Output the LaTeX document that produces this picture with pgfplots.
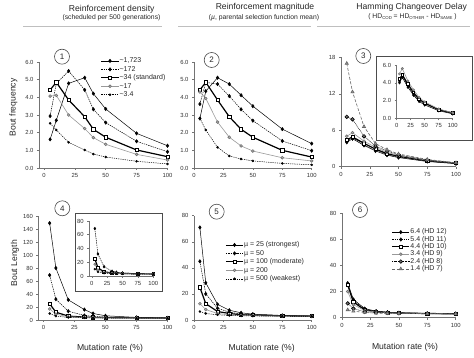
\documentclass[border=0pt]{standalone}
\usepackage{fontspec}
\setmainfont{Liberation Sans}
\usepackage{pgfplots}
\pgfplotsset{compat=1.18}
\newcommand{\sub}[1]{\raisebox{-0.35ex}{\fontsize{4.3}{5}\selectfont #1}}
\pgfplotsset{
  base/.style={scale only axis, anchor=south west,
    axis x line*=bottom, axis y line*=left,
    axis line style={draw=black!55, line width=0.6pt},
    tick style={draw=black!55, line width=0.5pt}, tick align=outside, major tick length=2pt,
    xtick={0,25,50,75,100},
    tick label style={font=\fontsize{5.9}{6.5}\selectfont, text=black!80},
    /pgf/number format/assume math mode=true,
    clip=false, xmax=100, ymin=0,
    legend cell align=left,
    legend style={draw=none, fill=none, anchor=north west, font=\fontsize{7}{8}\selectfont, text=black!85, row sep=1.45pt, inner sep=0pt, nodes={inner sep=0.5pt, text height=4.8pt, text depth=1.2pt}},
  },
  dec/.style={yticklabel style={/pgf/number format/.cd, fixed, fixed zerofill, precision=1}},
  s1/.style={black, line width=0.5pt, mark=diamond*, mark size=1.7pt, mark options={solid}},
  s2/.style={black, line width=0.5pt, dash pattern=on 1.4pt off 0.9pt, mark=diamond*, mark size=1.7pt, mark options={solid}},
  s3/.style={black, line width=1.2pt, mark=square*, mark size=1.6pt, mark options={solid, fill=white, line width=0.7pt}},
  s4/.style={black!40, line width=0.6pt, mark=*, mark size=1.4pt, mark options={solid, fill=black!30, draw=black!55}},
  s5/.style={black, line width=0.5pt, dash pattern=on 1.2pt off 1pt, mark=*, mark size=1.0pt, mark options={solid}},
  s6/.style={black, line width=0.5pt, dash pattern=on 0.7pt off 0.7pt, mark=*, mark size=1.8pt, mark options={solid, fill=black!55, draw=black, line width=0.6pt}},
  s7/.style={black!60, line width=0.6pt, dash pattern=on 3pt off 1.6pt, mark=triangle*, mark size=1.8pt, mark options={solid, fill=black!40, draw=black!60}},
}
\begin{document}
\begin{tikzpicture}
\useasboundingbox (0,0) rectangle (474pt,358pt);

% ---------- titles ----------
\node[font=\fontsize{8.6}{9}\selectfont, text=black!85] at (111.7pt,348.7pt) {Reinforcement density};
\node[font=\fontsize{6.8}{7}\selectfont, text=black!85] at (111.5pt,340.7pt) {(scheduled per 500 generations)};
\node[font=\fontsize{8.6}{9}\selectfont, text=black!85] at (265pt,350.5pt) {Reinforcement magnitude};
\node[font=\fontsize{6.8}{7}\selectfont, text=black!85] at (264pt,340.7pt) {(\textit{µ}, parental selection function mean)};
\node[font=\fontsize{8.6}{9}\selectfont, text=black!85] at (411.7pt,350.5pt) {Hamming Changeover Delay};
\node[font=\fontsize{6.8}{7}\selectfont, text=black!85] at (412.5pt,341.3pt) {( HD\sub{COD} = HD\sub{OTHER} - HD\sub{SAME} )};
\draw[black!25, line width=0.6pt] (23pt,331.3pt) -- (162pt,331.3pt);
\draw[black!25, line width=0.6pt] (178pt,331.3pt) -- (311pt,331.3pt);
\draw[black!25, line width=0.6pt] (317pt,331.3pt) -- (470pt,331.3pt);

% ---------- axis labels ----------
\node[rotate=90, font=\fontsize{8.6}{9}\selectfont, text=black!85] at (13.5pt,250.5pt) {Bout frequency};
\node[rotate=90, font=\fontsize{8.6}{9}\selectfont, text=black!85] at (15pt,94.7pt) {Bout Length};
\node[font=\fontsize{8.6}{9}\selectfont, text=black!85] at (110pt,9.7pt) {Mutation rate (\%)};
\node[font=\fontsize{8.6}{9}\selectfont, text=black!85] at (261.7pt,9.7pt) {Mutation rate (\%)};
\node[font=\fontsize{8.6}{9}\selectfont, text=black!85] at (405pt,10.7pt) {Mutation rate (\%)};

% ---------- Panel 1 ----------
\begin{axis}[base, dec, at={(39pt,190pt)}, width=128.5pt, height=106pt, xmin=-4, ymax=6, ytick={0,1,...,6},
  legend style={at={(0.48,1.045)}}]
\addplot[s1] coordinates {(5,1.62) (10,2.7) (20,4.79) (33,5.11) (40,4.21) (50,3.34) (75,1.96) (100,1.26)};
\addlegendentry{{\textasciitilde1,723}}
\addplot[s2] coordinates {(5,2.94) (10,4.79) (20,5.49) (33,4.42) (40,3.32) (50,2.57) (75,1.51) (100,0.92)};
\addlegendentry{{\textasciitilde172}}
\addplot[s3] coordinates {(5,4.42) (10,4.85) (20,3.85) (33,2.9) (40,2.19) (50,1.74) (75,1.02) (100,0.64)};
\addlegendentry{{\textasciitilde34 (standard)}}
\addplot[s4] coordinates {(5,4.07) (10,4.11) (20,3.0) (33,2.23) (40,1.72) (50,1.34) (75,0.77) (100,0.45)};
\addlegendentry{{\textasciitilde17}}
\addplot[s5] coordinates {(5,2.53) (10,2.15) (20,1.45) (33,1.02) (40,0.79) (50,0.62) (75,0.38) (100,0.23)};
\addlegendentry{{\textasciitilde3.4}}
\end{axis}

% ---------- Panel 2 ----------
\begin{axis}[base, dec, at={(194pt,190pt)}, width=117.7pt, height=106pt, xmin=0, ymax=6, ytick={0,1,...,6}]
\addplot[s1] coordinates {(5,2.8) (10,4.35) (20,5.11) (30,4.75) (40,4.12) (50,3.5) (75,2.2) (100,1.38)};
\addplot[s2] coordinates {(5,3.62) (10,4.85) (20,4.75) (30,4.07) (40,3.32) (50,2.68) (75,1.53) (100,0.98)};
\addplot[s3] coordinates {(5,4.42) (10,4.85) (20,3.85) (30,2.9) (40,2.19) (50,1.74) (75,1.0) (100,0.62)};
\addplot[s4] coordinates {(5,4.3) (10,3.94) (20,2.6) (30,1.74) (40,1.25) (50,0.96) (75,0.58) (100,0.4)};
\addplot[s5] coordinates {(5,2.81) (10,2.15) (20,1.17) (30,0.68) (40,0.51) (50,0.4) (75,0.26) (100,0.18)};
\end{axis}

% ---------- Panel 3 ----------
\begin{axis}[base, at={(341pt,191.3pt)}, width=115pt, height=109.4pt, xmin=0, ymax=18, ytick={0,6,12,18}]
\addplot[s1] coordinates {(5,4.0) (10,4.6) (20,3.5) (30,2.6) (40,1.9) (50,1.5) (75,0.85) (100,0.5)};
\addplot[s2] coordinates {(5,4.2) (10,4.75) (20,3.65) (30,2.75) (40,2.0) (50,1.6) (75,0.92) (100,0.55)};
\addplot[s3] coordinates {(5,4.42) (10,4.9) (20,3.85) (30,2.9) (40,2.15) (50,1.72) (75,0.98) (100,0.6)};
\addplot[s4] coordinates {(5,5.0) (10,5.6) (20,4.2) (30,3.2) (40,2.35) (50,1.85) (75,1.05) (100,0.62)};
\addplot[s6] coordinates {(5,8.2) (10,7.8) (20,5.0) (30,3.4) (40,2.6) (50,1.95) (75,1.1) (100,0.6)};
\addplot[s7] coordinates {(5,17.0) (10,12.3) (20,6.6) (30,3.8) (40,2.8) (50,2.1) (75,1.2) (100,0.65)};
\end{axis}
\draw[black!70, line width=0.7pt, fill=white] (376.7pt,218pt) rectangle (472.8pt,302pt);
\begin{axis}[base, dec, at={(396.7pt,239.7pt)}, width=56pt, height=53.3pt, xmin=0, ymax=6, ytick={0,2,4,6}]
\addplot[s1, mark size=1.3pt] coordinates {(5,4.0) (10,4.6) (20,3.5) (30,2.6) (40,1.9) (50,1.5) (75,0.85) (100,0.5)};
\addplot[s2, mark size=1.3pt] coordinates {(5,4.2) (10,4.75) (20,3.65) (30,2.75) (40,2.0) (50,1.6) (75,0.92) (100,0.55)};
\addplot[s3, mark size=1.3pt] coordinates {(5,4.42) (10,4.9) (20,3.85) (30,2.9) (40,2.15) (50,1.72) (75,0.98) (100,0.6)};
\addplot[s4, mark size=1.1pt] coordinates {(5,5.0) (10,5.6) (20,4.2) (30,3.2) (40,2.35) (50,1.85) (75,1.05) (100,0.62)};
\end{axis}

% ---------- Panel 4 ----------
\begin{axis}[base, at={(38.5pt,38pt)}, width=129pt, height=104pt, xmin=-4, ymax=160, ytick={0,20,...,160}]
\addplot[s1] coordinates {(5,149) (10,80) (20,31) (33,16) (40,10) (50,6.5) (75,4) (100,3)};
\addplot[s2] coordinates {(5,69) (10,32) (20,13.5) (33,7) (40,5.5) (50,4.5) (75,3.5) (100,3)};
\addplot[s3] coordinates {(5,25) (10,12) (20,6) (33,4.5) (40,4) (50,3.7) (75,3.2) (100,3)};
\addplot[s4] coordinates {(5,17) (10,9) (20,5) (33,4) (40,3.7) (50,3.4) (75,3) (100,2.9)};
\addplot[s5] coordinates {(5,10) (10,6) (20,4) (33,3.5) (40,3.2) (50,3) (75,2.8) (100,2.7)};
\end{axis}
\draw[black!70, line width=0.7pt, fill=white] (75pt,66.3pt) rectangle (162pt,144.7pt);
\begin{axis}[base, at={(89.3pt,82pt)}, width=64pt, height=55pt, xmin=-4, ymax=80, ytick={0,20,...,80}]
\addplot[s2, mark size=1.3pt] coordinates {(5,69) (10,32) (20,13.5) (33,7) (40,5.5) (50,4.5) (75,3.5) (100,3)};
\addplot[s3, mark size=1.3pt] coordinates {(5,25) (10,12) (20,6) (33,4.5) (40,4) (50,3.7) (75,3.2) (100,3)};
\addplot[s4, mark size=1.1pt] coordinates {(5,17) (10,9) (20,5) (33,4) (40,3.7) (50,3.4) (75,3) (100,2.9)};
\addplot[s5, mark size=0.9pt] coordinates {(5,10) (10,6) (20,4) (33,3.5) (40,3.2) (50,3) (75,2.8) (100,2.7)};
\end{axis}

% ---------- Panel 5 ----------
\begin{axis}[base, at={(194pt,38pt)}, width=117.7pt, height=104.3pt, xmin=0, ymax=80, ytick={0,20,...,80},
  legend style={at={(0.265,0.755)}}]
\addplot[s1] coordinates {(5,71) (10,28.5) (20,12) (30,7.5) (40,5.5) (50,4.5) (75,3.5) (100,3)};
\addlegendentry{µ = 25 (strongest)}
\addplot[s2] coordinates {(5,45) (10,20) (20,9) (30,6) (40,4.5) (50,4) (75,3.3) (100,3)};
\addlegendentry{µ = 50}
\addplot[s3] coordinates {(5,25) (10,12.5) (20,6.5) (30,5) (40,4) (50,3.7) (75,3.2) (100,3)};
\addlegendentry{µ = 100 (moderate)}
\addplot[s4] coordinates {(5,12.5) (10,8) (20,5) (30,4) (40,3.5) (50,3.3) (75,3) (100,2.9)};
\addlegendentry{µ = 200}
\addplot[s5] coordinates {(5,6.5) (10,5) (20,4) (30,3.5) (40,3.2) (50,3.1) (75,2.9) (100,2.8)};
\addlegendentry{µ = 500 (weakest)}
\end{axis}

% ---------- Panel 6 ----------
\begin{axis}[base, at={(342pt,40.3pt)}, width=113.7pt, height=104.4pt, xmin=0, ymax=80, ytick={0,20,...,80},
  legend style={at={(0.435,0.855)}, row sep=0.35pt}]
\addplot[s1] coordinates {(5,26.5) (10,14) (20,7) (30,5) (40,4.2) (50,3.8) (75,3.3) (100,3.1)};
\addlegendentry{6.4 (HD 12)}
\addplot[s2] coordinates {(5,25.5) (10,13) (20,6.5) (30,4.8) (40,4.1) (50,3.7) (75,3.2) (100,3.0)};
\addlegendentry{5.4 (HD 11)}
\addplot[s3] coordinates {(5,25) (10,12) (20,6) (30,4.6) (40,4) (50,3.6) (75,3.2) (100,3.0)};
\addlegendentry{4.4 (HD 10)}
\addplot[s4] coordinates {(5,20) (10,10) (20,5.5) (30,4.4) (40,3.8) (50,3.5) (75,3.1) (100,2.9)};
\addlegendentry{3.4 (HD 9)}
\addplot[s6] coordinates {(5,11) (10,7) (20,4.5) (30,4) (40,3.7) (50,3.4) (75,3.1) (100,2.9)};
\addlegendentry{2.4 (HD 8)}
\addplot[s7] coordinates {(5,6) (10,5) (20,4) (30,3.5) (40,3.3) (50,3.2) (75,3.0) (100,2.9)};
\addlegendentry{1.4 (HD 7)}
\end{axis}

% ---------- panel numbers ----------
\foreach \p/\n in {{(62pt,301.3pt)}/1, {(211.7pt,298pt)}/2, {(363.3pt,302pt)}/3, {(62.3pt,149.7pt)}/4, {(216.7pt,146.3pt)}/5, {(360pt,148pt)}/6}
  \node[draw=black!70, circle, line width=0.6pt, minimum size=15pt, inner sep=0pt, fill=white, font=\fontsize{8}{8}\selectfont, text=black!85] at \p {\n};
\end{tikzpicture}
\end{document}
